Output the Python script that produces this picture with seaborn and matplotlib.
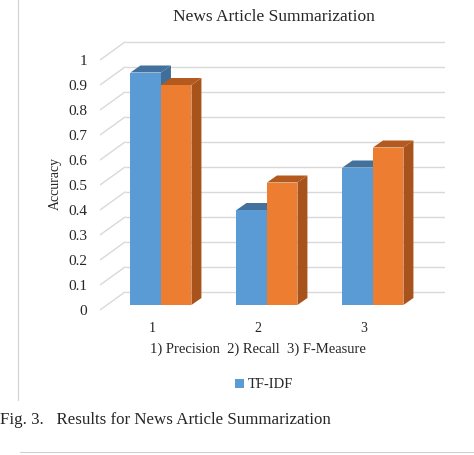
import numpy as np
import pandas as pd
import matplotlib
matplotlib.use("Agg")
import matplotlib.pyplot as plt
from matplotlib.patches import Polygon
from matplotlib.transforms import ScaledTranslation
import seaborn as sns

# ---- data ----
categories = ["1", "2", "3"]
series_names = ["TF-IDF", "Series 2"]
tfidf_values = [0.93, 0.38, 0.55]
series2_values = [0.88, 0.49, 0.63]
y_ticks = [0, 0.1, 0.2, 0.3, 0.4, 0.5, 0.6, 0.7, 0.8, 0.9, 1.0]
y_tick_labels = ["0", "0.1", "0.2", "0.3", "0.4", "0.5", "0.6", "0.7", "0.8", "0.9", "1"]

df = pd.DataFrame({
    "metric": categories * 2,
    "series": [series_names[0]] * 3 + [series_names[1]] * 3,
    "accuracy": tfidf_values + series2_values,
})

front_colors = ["#5B9BD5", "#ED7D31"]
top_colors = ["#41719C", "#B55A1E"]
side_colors = ["#3F6E9A", "#A9531C"]

sns.set_theme(style="white")
plt.rcParams["font.family"] = ["Liberation Serif", "DejaVu Serif"]

fig = plt.figure(figsize=(4.74, 4.55), dpi=100)
W, H = 474, 455
# axes: x from 100 px to 445 px ; y=0 at 305 px, 250 px per unit
ylo, yhi = -0.04, 1.06
ax_bottom_px = 305 + (-ylo) * 250
ax_top_px = 305 - yhi * 250
ax = fig.add_axes([100 / W, 1 - ax_bottom_px / H, 345 / W, (ax_bottom_px - ax_top_px) / H])
ax.patch.set_alpha(0)

sns.barplot(data=df, x="metric", y="accuracy", hue="series", order=categories,
            hue_order=series_names, palette=front_colors, width=0.575,
            saturation=1, ax=ax, legend=True, linewidth=0)

px_per_x = 106.0
xlo = -0.575
ax.set_xlim(xlo, xlo + 345 / px_per_x)
ax.set_ylim(ylo, yhi)

# 3D depth offsets (data units)
dx = 10 / px_per_x
dy = 7 / 250

n = len(categories)
for i, p in enumerate(ax.patches[: 2 * n]):
    s = i // n
    x0 = p.get_x()
    x1 = x0 + p.get_width()
    h = p.get_height()
    z = 2 + s
    p.set_zorder(z)
    side = Polygon([(x1, 0), (x1 + dx, dy), (x1 + dx, h + dy), (x1, h)],
                   closed=True, facecolor=side_colors[s], edgecolor="none", zorder=z + 0.1)
    top = Polygon([(x0, h), (x0 + dx, h + dy), (x1 + dx, h + dy), (x1, h)],
                  closed=True, facecolor=top_colors[s], edgecolor="none", zorder=z + 0.1)
    ax.add_patch(side)
    ax.add_patch(top)

# back wall and side wall gridlines
wall_dx = 25 / px_per_x
wall_dy = 13 / 250
grid_c = "#D9D9D9"
for v in y_ticks:
    ax.plot([xlo + wall_dx, ax.get_xlim()[1]], [v + wall_dy, v + wall_dy],
            color=grid_c, lw=1.0, zorder=1, solid_capstyle="butt")
    ax.plot([xlo, xlo + wall_dx], [v - 0.02, v + wall_dy], color=grid_c, lw=1.0, zorder=1)

# axes styling
for sp in ax.spines.values():
    sp.set_visible(False)
ax.set_yticks(y_ticks)
ax.set_yticklabels(y_tick_labels, fontsize=11)
ax.tick_params(axis="y", length=0, pad=9)
for lab in ax.get_yticklabels():
    lab.set_transform(lab.get_transform() + ScaledTranslation(0, -0.05, fig.dpi_scale_trans))
ax.tick_params(axis="x", length=0, pad=5, labelsize=10)
for lab in ax.get_xticklabels():
    lab.set_transform(lab.get_transform() + ScaledTranslation(-0.09, 0, fig.dpi_scale_trans))

ax.set_ylabel("Accuracy", fontsize=10)
ax.yaxis.set_label_coords(-0.11, 0.48)
ax.set_xlabel("1) Precision  2) Recall  3) F-Measure", fontsize=10.5)
ax.xaxis.set_label_coords((258 - 100) / 345, -0.1)

# legend (only first series shown, as in the reference)
handles, labels = ax.get_legend_handles_labels()
ax.get_legend().remove()
fig.legend(handles[:1], labels[:1], loc="center", bbox_to_anchor=(264 / W, 1 - 385 / H),
           frameon=False, fontsize=10.5, handlelength=0.6, handleheight=0.6,
           handletextpad=0.3, borderpad=0)

fig.text(274 / W, 1 - 17 / H, "News Article Summarization", ha="center", va="center", fontsize=12.5)

# chart frame lines and caption
fig.add_artist(plt.Line2D([17.5 / W, 17.5 / W], [1 - 400 / H, 1.0], color="#D0D0D0", lw=0.8))
fig.add_artist(plt.Line2D([20 / W, 1.0], [1 - 452 / H, 1 - 452 / H], color="#D0D0D0", lw=0.8))
fig.text(0 / W, 1 - 420 / H, "Fig. 3.   Results for News Article Summarization",
         ha="left", va="center", fontsize=12.2)

fig.savefig("out.png", dpi=100, facecolor="white")
